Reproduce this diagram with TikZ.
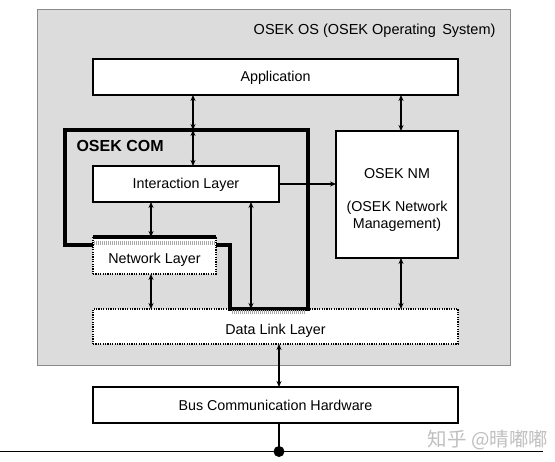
\documentclass[tikz,border=0pt]{standalone}
\usepackage{fontspec}
\setmainfont{Liberation Sans}
\newfontfamily\cjk{Noto Sans CJK SC}
\usetikzlibrary{arrows.meta,positioning}
\definecolor{osgray}{HTML}{DCDCDC}
\definecolor{osedge}{HTML}{8A8A8A}
\definecolor{hatchgray}{HTML}{A8A8A8}
\newcommand{\lowerby}[2]{\raisebox{-#1}[\height][\depth]{#2}}
\tikzset{
  solidbox/.style={draw=black,line width=2pt,fill=white,inner sep=0pt,outer sep=0pt,
    font=\fontsize{14.3}{16}\selectfont,align=center},
  dotbox/.style={draw=black,line width=1.8pt,dash pattern=on 1.2pt off 1.2pt,fill=white,
    inner sep=0pt,outer sep=0pt,font=\fontsize{14.3}{16}\selectfont,align=center},
  comline/.style={draw=black,line width=3.5pt,line join=miter},
  hatch/.style={draw=hatchgray,line width=4pt,dash pattern=on 1pt off 1pt},
  dbl/.style={line width=1.6pt,{Stealth[length=6pt,width=5pt]}-{Stealth[length=6pt,width=5pt]}},
  sgl/.style={line width=1.6pt,-{Stealth[length=6pt,width=5pt]}},
}
\begin{document}
\begin{tikzpicture}[x=1pt,y=-1pt]
\useasboundingbox (0,0) rectangle (555,462);
% OS background
\node[draw=osedge,line width=1pt,fill=osgray,inner sep=0pt,outer sep=0pt,
  minimum width=473pt,minimum height=356pt] (os) at (273.5,188) {};
\node[anchor=east,font=\fontsize{14.5}{16}\selectfont] (oslabel) at (499,31) {OSEK OS (OSEK Operating\ \,System)};
% boxes
\node[solidbox,minimum width=365pt,minimum height=36pt] (app) at (275.5,77) {\lowerby{1pt}{Application}};
\node[solidbox,minimum width=186pt,minimum height=36pt] (il) at (186,184) {\lowerby{1pt}{Interaction Layer}};
\node[solidbox,minimum width=122pt,minimum height=127pt] (nm) at (397,194.5)
  {\lowerby{6pt}{\begin{tabular}{@{}c@{}}OSEK NM\\[17pt](OSEK Network\\[1.5pt]Management)\end{tabular}}};
\node[dotbox,minimum width=123pt,minimum height=37pt] (nl) at (154.5,255.5) {\lowerby{4pt}{Network Layer}};
\node[dotbox,minimum width=365pt,minimum height=35pt] (dll) at (275.5,326.5) {\lowerby{4pt}{Data Link Layer}};
\node[solidbox,minimum width=365pt,minimum height=36pt] (bus) at (275.5,405) {Bus Communication Hardware};
% OSEK COM outline
\coordinate (ctl) at (65,130);
\coordinate (ctr) at (308,130);
\coordinate (cbl) at (65,245);
\coordinate (cbr) at (308,309);
\coordinate (cnotch) at (230,245);
\coordinate (cnotchb) at (230,309);
\draw[comline] (nl.north west) -- (nl.north east);
\draw[comline] (nl.west |- cbl) -- (cbl) -- (ctl) -- (ctr) -- (cbr) -- (cnotchb) -- (cnotch) -- (nl.east |- cnotch);
\node[anchor=west,font=\bfseries\fontsize{16}{18}\selectfont] (comlabel) at (73,146) {OSEK COM};
% hatch strips
\coordinate (h1a) at (94,243);
\coordinate (h1b) at (215,243);
\draw[hatch] (h1a) -- (h1b);
\coordinate (h2a) at (232,312.5);
\coordinate (h2b) at (306,312.5);
\draw[hatch] (h2a) -- (h2b);
% arrows
\coordinate (xa) at (193,0);
\coordinate (xb) at (401,0);
\coordinate (xc) at (151,0);
\coordinate (xd) at (251,0);
\coordinate (xe) at (279,0);
\draw[dbl] (xa |- app.south) -- (xa |- ctl);
\draw[dbl] (xa |- ctl) -- (xa |- il.north);
\draw[dbl] (xb |- app.south) -- (nm.north -| xb);
\draw[dbl] (xc |- il.south) -- (xc |- nl.north);
\draw[dbl] (xc |- nl.south) -- (xc |- dll.north);
\draw[dbl] (xd |- il.south) -- (xd |- cbr);
\draw[dbl] (xb |- nm.south) -- (xb |- dll.north);
\draw[sgl] (il.east) -- (nm.west |- il.east);
\draw[dbl] (xe |- dll.south) -- (xe |- bus.north);
% bus line
\coordinate (busL) at (0,451.5);
\coordinate (busR) at (543,451.5);
\coordinate (tap) at (279,451.5);
\draw[line width=1.8pt] (busL) -- (busR);
\draw[line width=1.6pt] (bus.south -| tap) -- (tap);
\fill (tap) circle (5.5pt);
% watermark
\node[text=gray!50,font=\cjk\fontsize{19.5}{22}\selectfont] (wm) at (488,440) {知乎 @晴嘟嘟};
\end{tikzpicture}
\end{document}
